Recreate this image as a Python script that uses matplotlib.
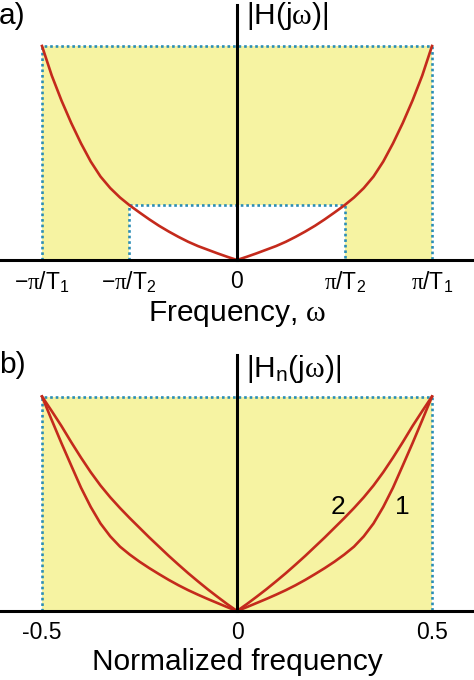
import numpy as np
import matplotlib
matplotlib.use("Agg")
import matplotlib.pyplot as plt

plt.rcParams['font.family'] = ['Liberation Sans', 'DejaVu Sans']
plt.rcParams['mathtext.fontset'] = 'custom'
plt.rcParams['mathtext.rm'] = 'Liberation Sans'
plt.rcParams['mathtext.it'] = 'Liberation Serif'
plt.rcParams['mathtext.bf'] = 'Liberation Sans:bold'

# ---------------- data ----------------
# panel a: right half of |H(jw)| (x normalised to pi/T1, y normalised to max)
a_u = [0.0, 0.05, 0.1, 0.15, 0.2, 0.25, 0.3, 0.35, 0.4, 0.45, 0.5, 0.55, 0.6, 0.65,
       0.7, 0.75, 0.8, 0.85, 0.9, 0.95, 1.0]
a_h = [0.0, 0.015, 0.031, 0.048, 0.065, 0.085, 0.108, 0.133, 0.16, 0.19, 0.222, 0.255,
       0.292, 0.336, 0.39, 0.46, 0.545, 0.64, 0.745, 0.862, 1.0]
a_edge1 = 1.0        # pi/T1
a_edge2 = 0.555      # pi/T2
a_level2 = 0.255     # |H| at pi/T2
a_ticks = [-1.0, -0.555, 0.0, 0.555, 1.0]
a_ticklabels = [r'$-\pi/\mathrm{T}_1$', r'$-\pi/\mathrm{T}_2$', r'$\mathrm{0}$',
                r'$\pi/\mathrm{T}_2$', r'$\pi/\mathrm{T}_1$']

# panel b: right halves of curves 1 and 2 (normalised frequency, normalised magnitude)
b_f = [0.0, 0.025, 0.05, 0.075, 0.1, 0.125, 0.15, 0.175, 0.2, 0.225, 0.25, 0.275, 0.3,
       0.325, 0.35, 0.375, 0.4, 0.425, 0.45, 0.475, 0.5]
b1_h = [0.0, 0.018, 0.037, 0.056, 0.076, 0.097, 0.12, 0.145, 0.172, 0.2, 0.23, 0.263,
        0.30, 0.348, 0.408, 0.485, 0.575, 0.678, 0.782, 0.89, 1.0]
b2_h = [0.0, 0.032, 0.066, 0.101, 0.138, 0.176, 0.216, 0.257, 0.300, 0.343, 0.388, 0.433,
        0.48, 0.53, 0.585, 0.647, 0.715, 0.787, 0.862, 0.932, 1.0]
b_ticks = [-0.5, 0.0, 0.5]
b_ticklabels = ['-0.5', '0', '0.5']

YELLOW = '#f6f3a2'
DOT = '#2b8db5'
RED = '#c42a1c'

W, H = 474, 680
fig = plt.figure(figsize=(W / 100, H / 100), dpi=100)

def make_axes(top_px, bot_px):
    ax = fig.add_axes([0, (H - bot_px) / H, 1, (bot_px - top_px) / H])
    for s in ['top', 'right']:
        ax.spines[s].set_visible(False)
    ax.spines['left'].set_position(('data', 0))
    ax.spines['bottom'].set_position(('data', 0))
    for s in ['left', 'bottom']:
        ax.spines[s].set_linewidth(2.2)
        ax.spines[s].set_color('black')
        ax.spines[s].set_zorder(5)
    ax.set_yticks([])
    ax.patch.set_alpha(0)
    return ax

dot_kw = dict(color=DOT, lw=1.9, linestyle=(0, (1, 1.1)), dash_capstyle='butt', zorder=3)
BIG = 21.5
TICK = 16.5

# ---------------- panel a ----------------
axa = make_axes(0, 335)
axa.set_xlim((0 - 237) / 195, (474 - 237) / 195)
axa.set_ylim((260 - 335) / 214, 260 / 214)
axa.spines['left'].set_bounds(0, (260 - 5) / 214)

axa.fill_between([-a_edge1, a_edge1], 0, 1.0, color=YELLOW, lw=0, zorder=1)
axa.fill_between([-a_edge2, a_edge2], 0, a_level2, color='white', lw=0, zorder=2)
axa.plot([-a_edge1, -a_edge1, a_edge1, a_edge1], [0, 1, 1, 0], **dot_kw)
axa.plot([-a_edge2, -a_edge2, a_edge2, a_edge2], [0, a_level2, a_level2, 0], **dot_kw)

ua = np.array(a_u); ha = np.array(a_h)
xa = np.concatenate([-ua[::-1], ua[1:]])
ya = np.concatenate([ha[::-1], ha[1:]])
axa.plot(xa, ya, color=RED, lw=1.9, zorder=4, solid_joinstyle='round')

axa.set_xticks(a_ticks)
axa.set_xticklabels(a_ticklabels, fontsize=TICK)
axa.tick_params(axis='x', length=0, pad=7)
axa.text(0, (260 - 314) / 214, r'Frequency, $\omega$', fontsize=BIG, ha='center', va='center')
axa.text((246 - 237) / 195, (260 - 16) / 214, r'|H(j$\omega$)|', fontsize=BIG, ha='left', va='center')
axa.text((-1 - 237) / 195, (260 - 16) / 214, 'a)', fontsize=BIG, ha='left', va='center')

# ---------------- panel b ----------------
axb = make_axes(340, 680)
sx = 0.5 / 195
axb.set_xlim((0 - 237) * sx, (474 - 237) * sx)
axb.set_ylim((611 - 680) / 214.5, (611 - 340) / 214.5)
axb.spines['left'].set_bounds(0, (611 - 355) / 214.5)

axb.fill_between([-0.5, 0.5], 0, 1.0, color=YELLOW, lw=0, zorder=1)
axb.plot([-0.5, -0.5, 0.5, 0.5], [0, 1, 1, 0], **dot_kw)

fb = np.array(b_f)
for h in (b1_h, b2_h):
    h = np.array(h)
    xb = np.concatenate([-fb[::-1], fb[1:]])
    yb = np.concatenate([h[::-1], h[1:]])
    axb.plot(xb, yb, color=RED, lw=1.9, zorder=4, solid_joinstyle='round')

axb.set_xticks(b_ticks)
axb.set_xticklabels(b_ticklabels, fontsize=TICK)
axb.tick_params(axis='x', length=0, pad=7)
axb.text(0, (611 - 662) / 214.5, 'Normalized frequency', fontsize=BIG, ha='center', va='center')
axb.text((246 - 237) * sx, (611 - 369) / 214.5, r'|H$_\mathrm{n}$(j$\omega$)|', fontsize=BIG, ha='left', va='center')
axb.text((-1 - 237) * sx, (611 - 365) / 214.5, 'b)', fontsize=BIG, ha='left', va='center')
axb.text((338 - 237) * sx, (611 - 507) / 214.5, '2', fontsize=19, ha='center', va='center')
axb.text((402 - 237) * sx, (611 - 507) / 214.5, '1', fontsize=19, ha='center', va='center')

fig.savefig('out.png', dpi=100)
